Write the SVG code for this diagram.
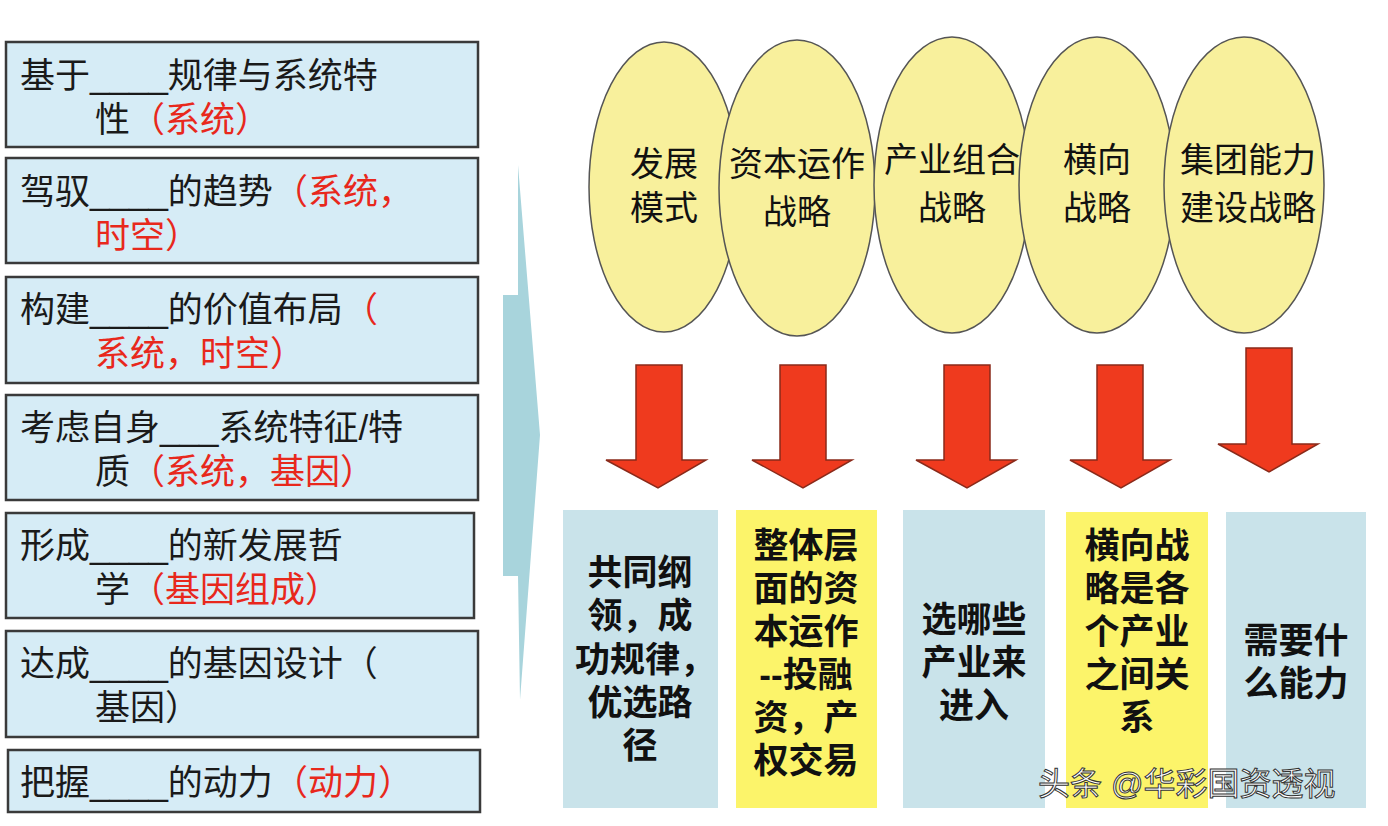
<svg xmlns="http://www.w3.org/2000/svg" width="1388" height="826" viewBox="0 0 1388 826">
<style>
.lb{fill:#d6ecf6;stroke:#3a3a3a;stroke-width:2.5}
.t{font-family:"Liberation Sans","Noto Sans CJK SC",sans-serif;font-size:35px;fill:#1a1a1a}
.r{fill:#e8281c}
.el{fill:#f8f09c;stroke:#555;stroke-width:1.5}
.et{font-family:"Liberation Sans","Noto Sans CJK SC",sans-serif;font-size:34px;fill:#111;text-anchor:middle}
.ar{fill:#ef3a1e;stroke:#8a2a1a;stroke-width:1.5}
.bb{fill:#c9e3ea}
.by{fill:#fcf46a}
.bt{font-family:"Liberation Sans","Noto Sans CJK SC",sans-serif;font-size:35px;font-weight:bold;fill:#111;text-anchor:middle}
</style>
<rect width="1388" height="826" fill="#fff"/>
<polygon points="518,165 540,435 520,700 518,576 503,576 503,295 518,295" fill="#a8d4dc"/>
<g id="box1"><rect class="lb" x="6" y="42" width="472" height="105"/><text class="t" x="20" y="88">基于____规律与系统特</text><text class="t" x="95" y="132">性<tspan class="r">（系统）</tspan></text></g>
<g id="box2"><rect class="lb" x="6" y="158" width="472" height="105"/><text class="t" x="20" y="204">驾驭____的趋势<tspan class="r">（系统，</tspan></text><text class="t r" x="95" y="248">时空）</text></g>
<g id="box3"><rect class="lb" x="6" y="277" width="472" height="106"/><text class="t" x="20" y="322">构建____的价值布局<tspan class="r">（</tspan></text><text class="t r" x="95" y="366">系统，时空）</text></g>
<g id="box4"><rect class="lb" x="6" y="395" width="472" height="105"/><text class="t" x="20" y="440">考虑自身___系统特征/特</text><text class="t" x="95" y="484">质<tspan class="r">（系统，基因）</tspan></text></g>
<g id="box5"><rect class="lb" x="6" y="513" width="468" height="105"/><text class="t" x="20" y="558">形成____的新发展哲</text><text class="t" x="95" y="602">学<tspan class="r">（基因组成）</tspan></text></g>
<g id="box6"><rect class="lb" x="6" y="631" width="472" height="106"/><text class="t" x="20" y="676">达成____的基因设计（</text><text class="t" x="95" y="720">基因）</text></g>
<g id="box7"><rect class="lb" x="8" y="750" width="472" height="62"/><text class="t" x="20" y="795">把握____的动力<tspan class="r">（动力）</tspan></text></g>
<g id="e1"><ellipse class="el" cx="664" cy="187" rx="75" ry="145"/><text class="et" x="664" y="176">发展</text><text class="et" x="664" y="220">模式</text></g>
<g id="e2"><ellipse class="el" cx="797" cy="188" rx="78" ry="148"/><text class="et" x="797" y="176">资本运作</text><text class="et" x="797" y="224">战略</text></g>
<g id="e3"><ellipse class="el" cx="952" cy="185" rx="78" ry="148"/><text class="et" x="952" y="172">产业组合</text><text class="et" x="952" y="220">战略</text></g>
<g id="e4"><ellipse class="el" cx="1097" cy="185" rx="78" ry="148"/><text class="et" x="1097" y="172">横向</text><text class="et" x="1097" y="220">战略</text></g>
<g id="e5"><ellipse class="el" cx="1244" cy="185" rx="80" ry="148"/><text class="et" x="1248" y="172">集团能力</text><text class="et" x="1248" y="220">建设战略</text></g>
<g id="connectors">
<polygon class="ar" points="636,365 682,365 682,460 706,460 658,488 606,460 636,460"/>
<polygon class="ar" points="780,365 826,365 826,460 852,460 803,488 752,460 780,460"/>
<polygon class="ar" points="944,365 990,365 990,460 1016,460 967,488 916,460 944,460"/>
<polygon class="ar" points="1097,365 1143,365 1143,460 1170,460 1121,488 1070,460 1097,460"/>
<polygon class="ar" points="1246,348 1292,348 1292,444 1318,444 1269,472 1218,444 1246,444"/>
</g>
<g id="b1"><rect class="bb" x="563" y="510" width="155" height="298"/><text class="bt" x="640" y="585">共同纲</text><text class="bt" x="640" y="628">领，成</text><text class="bt" x="645" y="672">功规律，</text><text class="bt" x="640" y="715">优选路</text><text class="bt" x="640" y="758">径</text></g>
<g id="b2"><rect class="by" x="736" y="510" width="141" height="298"/><text class="bt" x="806" y="558">整体层</text><text class="bt" x="806" y="601">面的资</text><text class="bt" x="806" y="644">本运作</text><text class="bt" x="806" y="687">--投融</text><text class="bt" x="806" y="730">资，产</text><text class="bt" x="806" y="773">权交易</text></g>
<g id="b3"><rect class="bb" x="903" y="510" width="142" height="298"/><text class="bt" x="974" y="632">选哪些</text><text class="bt" x="974" y="675">产业来</text><text class="bt" x="974" y="718">进入</text></g>
<g id="b4"><rect class="by" x="1066" y="512" width="142" height="296"/><text class="bt" x="1137" y="558">横向战</text><text class="bt" x="1137" y="601">略是各</text><text class="bt" x="1137" y="644">个产业</text><text class="bt" x="1137" y="687">之间关</text><text class="bt" x="1137" y="730">系</text></g>
<g id="b5"><rect class="bb" x="1226" y="512" width="140" height="296"/><text class="bt" x="1296" y="653">需要什</text><text class="bt" x="1296" y="696">么能力</text></g>
<text x="1038" y="795" font-family="Liberation Sans,'Noto Sans CJK SC',sans-serif" font-size="32" fill="#fff" stroke="#333" stroke-width="1">头条 @华彩国资透视</text>
</svg>
